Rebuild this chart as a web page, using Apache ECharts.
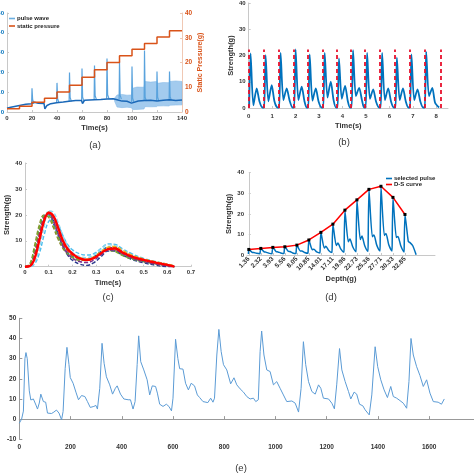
<!DOCTYPE html>
<html>
<head>
<meta charset="utf-8">
<script src="https://cdn.jsdelivr.net/npm/echarts@6/dist/echarts.min.js"></script>
<style>
  html, body { margin: 0; padding: 0; background: #fff; }
  #chart { width: 474px; height: 474px; }
</style>
</head>
<body>
<div id="chart"></div>
<script>
// ---- (a) pressure ramp with pulse wave ----
const stepTimes = [0, 10, 20, 30, 40, 50, 60, 70, 80, 90, 100, 110, 120, 130, 140]
const staticPressure = [1.36, 2.32, 3.93, 5.56, 8.05, 10.85, 14.01, 17.11, 19.96, 22.73, 25.36, 27.71, 30.33, 32.85, 32.85]
const aBaseTime = [0, 3, 6, 10, 15, 19.6, 22, 25, 29.6, 30.3, 32, 35, 39.6, 45, 49.6, 55, 59.6, 60.4, 62, 66, 70, 75, 80, 85, 88, 92, 96, 99.6, 100.4, 105, 110, 115, 120, 125, 130, 135, 140]
const aBaseValue = [1.9, 2.4, 2.8, 3.3, 3.9, 4.2, 4.9, 4.4, 4.3, 1.6, 3.3, 4.2, 4.7, 5.0, 5.4, 5.8, 5.8, 4.3, 5.9, 6.1, 6.2, 6.3, 6.6, 6.7, 6.2, 5.5, 5.4, 4.5, 5.4, 5.6, 5.8, 5.9, 5.6, 5.9, 6.2, 5.8, 6.0]
const spikeTime = [20, 40, 50, 60, 70, 80, 90, 100, 110, 120, 130]
const spikePeak = [12, 14.7, 20, 22, 23.5, 27, 25.5, 23, 31, 20.5, 20.5]
const spikeBase = [4.3, 4.7, 5.4, 5.5, 6.3, 6.8, 6.5, 5, 5.5, 5.5, 5.8]
const bandTime = [86, 88, 92, 96, 99.6, 100.4, 104, 109.6, 110.4, 115, 119.6, 120.4, 125, 129.6, 130.4, 135, 140]
const bandLow = [5.5, 2.5, 2.2, 2.4, 2.2, 1.2, 1.3, 1.5, 2.7, 2.6, 2.7, 3, 3.1, 3, 3.4, 3.5, 3.6]
const bandHigh = [7, 8.6, 8.9, 8.5, 8.6, 12, 12.6, 12.5, 15.4, 15.1, 15.4, 14.5, 14.9, 14.8, 15.4, 15.7, 15.4]

// ---- (b) segmented beats ----
const beatLines = [0, 0.64, 1.28, 1.92, 2.52, 3.16, 3.77, 4.37, 4.97, 5.61, 6.24, 6.86, 7.49, 8.17]
const beatPeak = [20.8, 20.1, 21, 22.3, 20.4, 21, 18.9, 22, 21, 21, 19.2, 20.4, 21.4]
const beatNotch = [1, 2.5, 3, 3, 2.8, 4, 3.5, 4.5, 3.5, 3, 3, 3, 4.5]
const beatBump = [7.5, 8.7, 7.5, 8.1, 7.5, 10, 8.4, 7.7, 7.1, 7.5, 7.5, 7.1, 7.7]
const beatTail = [2.5, 2.5, 3, 2.5, 2.5, 3, 2.5, 3, 2.5, 2.5, 2.5, 2.5, 2]
const segTop = 22.3

// ---- (c) overlaid single beats ----
const cTime = [0, 0.02, 0.04, 0.06, 0.08, 0.10, 0.12, 0.14, 0.16, 0.18, 0.20, 0.23, 0.26, 0.29, 0.32, 0.35, 0.38, 0.41, 0.45, 0.50, 0.55, 0.60, 0.63]
const beatMean = [0, 0.2, 3, 10, 17.5, 20.8, 19.5, 15, 10, 6.8, 5, 3.2, 2.6, 3.3, 5.2, 6.8, 7, 5.5, 3.9, 2.6, 1.6, 0.7, 0]
const beatOlive = [0, 1, 8, 16, 20, 19, 15, 10.5, 7, 4.8, 3.5, 2.5, 2.5, 3.8, 5.8, 7, 6.2, 4.6, 3.2, 2, 1.2, 0.5, 0]
const beatBlue = [0, 0.5, 6, 14, 19.5, 20, 16.5, 12, 8, 5.5, 4, 3, 2.8, 3.8, 5.8, 7.5, 7, 5.3, 3.6, 2.3, 1.3, 0.5, 0]
const beatSky = [0, 0, 1, 5, 12, 17.5, 18.5, 16, 12, 8.5, 6.5, 5, 4.5, 5, 7, 8.8, 8.6, 7, 5, 3.2, 2, 1, 0.3]
const beatNavy = [0, 0.3, 4, 12, 18.5, 21, 18, 13, 8, 4.5, 2.5, 1, 0.5, 1.5, 3.8, 6, 6, 4.5, 2.8, 1.5, 0.6, 0, 0]
const beatCyan = [0, 0, 1.5, 7, 15, 21.5, 21, 17, 12, 8, 5.5, 4, 3.5, 4.5, 6.8, 8.5, 8, 6.3, 4.5, 2.8, 1.6, 0.7, 0]
const beatOrange = [0, 0.3, 5, 13, 19, 20.5, 17.5, 13, 9, 6, 4.3, 3, 2.5, 3.3, 5.2, 7.2, 7.5, 6, 4.3, 2.8, 1.8, 0.9, 0.2]
const beatYellow = [0, 0.2, 3.5, 11, 18, 21, 19, 14.5, 10, 7, 5, 3.5, 3, 3.8, 5.8, 7.5, 7.8, 6.4, 4.6, 3, 1.9, 1, 0.3]
const beatGreen = [0, 0.8, 7, 15, 19.5, 19.5, 16, 11.5, 7.5, 5, 3.6, 2.6, 2.4, 3.4, 5, 6.3, 5.8, 4.4, 3, 1.9, 1, 0.4, 0]
const beatPurple = [0, 0.2, 4, 12, 18.5, 20.5, 17.5, 12.5, 8, 5, 3.2, 2, 1.6, 2.5, 4.5, 6.3, 6.4, 5, 3.4, 2, 1, 0.3, 0]

// ---- (d) depth-strength ----
const depthLabels = ['1.36', '2.32', '3.93', '5.56', '8.05', '10.85', '14.01', '17.11', '19.96', '22.73', '25.36', '27.71', '30.33', '32.85']
const dsCurve = [2.7, 3.2, 3.7, 4.0, 4.8, 7.3, 11, 15, 21.8, 26.8, 31.9, 33.4, 28, 19.7]
const dNotch = [1.3, 1.5, 1.6, 1.8, 2.0, 2.6, 3.4, 4.6, 6.5, 7.5, 8.9, 9.5, 8.5, 6.5]
const dBump = [1.2, 1.4, 1.5, 1.7, 2.0, 2.8, 4.2, 5.8, 7.8, 9.2, 9.7, 10.5, 9.0, 6.0]
const dLate = [0.8, 0.9, 1.0, 1.0, 1.2, 1.5, 2.2, 3.0, 4.0, 4.5, 4.8, 5.0, 4.5, 4.5]
const dEnd = [0.6, 0.6, 0.7, 0.7, 0.8, 1, 1.2, 1.4, 1.6, 1.8, 2, 2, 1.5, 0.1]

// ---- (e) long raw recording ----
const eWave = [[0,-2],[9,0],[16,4],[22,30],[26,33],[31,30],[39,14],[45,9.5],[55,10],[65,7],[71,5],[78,8],[84,12.4],[94,8.7],[103,8.4],[110,3],[126,2.8],[135,3.5],[145,4.5],[155,3],[165,-0.3],[171,3.8],[179,25],[186,35.6],[194,27],[199,20.6],[210,17.8],[221,13.4],[231,9.6],[243,11.7],[256,11.2],[266,8.7],[277,5.8],[291,6.3],[299,6.8],[305,5],[314,15.3],[323,37.6],[331,27.7],[340,21],[353,17],[364,12.4],[375,15.3],[382,16.5],[395,12.4],[408,10],[425,9.6],[434,9.6],[444,5],[452,8.7],[460,27],[466,41.3],[474,28.5],[486,24.4],[499,19.5],[509,12],[519,16.5],[532,16.2],[539,12.9],[548,7.4],[561,6.3],[574,7.4],[584,6.3],[594,4.1],[600,10.4],[610,39.6],[619,30],[626,25],[639,24.8],[649,17.8],[660,14.5],[671,17.8],[684,16.5],[695,12],[704,10.7],[717,8.7],[736,8.2],[747,10.4],[756,8.4],[762,10.4],[771,31.8],[779,44.5],[788,33.5],[797,27],[810,24.4],[825,17.5],[838,20.5],[849,17],[862,15],[875,13.4],[888,11.2],[901,10],[914,10.4],[923,8.7],[933,9.6],[940,33.5],[946,43.7],[955,31.8],[966,24.4],[979,23.6],[992,17],[1005,18.6],[1018,15.3],[1031,12],[1044,8.7],[1064,9],[1077,7.9],[1090,3.5],[1100,15.3],[1109,38.4],[1118,27],[1129,18.6],[1142,13.7],[1155,12.4],[1168,17],[1177,15.3],[1187,10.4],[1207,10],[1220,7.9],[1230,5.1],[1239,17],[1250,35],[1259,24.4],[1272,18.6],[1285,13.7],[1294,10],[1307,13.4],[1317,12.4],[1328,7.4],[1341,6.6],[1350,4.6],[1366,2.1],[1376,12],[1389,35.9],[1399,26],[1411,19.5],[1424,14.5],[1437,10.7],[1450,16.2],[1460,11.2],[1473,10.4],[1486,9.2],[1499,7.9],[1512,5.4],[1521,18.6],[1529,40],[1538,31.8],[1551,26],[1564,21.6],[1577,16.2],[1590,19.5],[1603,12.9],[1616,8.7],[1635,8.4],[1648,7.4],[1659,10]]

const FONT = 'Liberation Sans'
const ORANGE = '#d95319'
const BLUE = '#0072bd'

const chart = echarts.init(document.getElementById('chart'))

// build the line data from the arrays above
const zip = (xs, ys) => xs.map((x, i) => [x, ys[i]])
const stepData = zip(stepTimes, staticPressure)
const baseData = zip(aBaseTime, aBaseValue)
const spikeData = []
spikeTime.forEach((t, i) => {
  spikeData.push([t - 0.3, spikeBase[i]], [t, spikePeak[i]], [t + 0.5, spikeBase[i] + 2], [t + 1.5, spikeBase[i]], [t + 1.6, '-'])
})

const beatData = []
beatPeak.forEach((p, i) => {
  const t0 = beatLines[i]
  const t1 = beatLines[i + 1]
  beatData.push([t0 + 0.02, 0.2], [t0 + 0.08, p], [t0 + 0.2, beatNotch[i]], [t0 + 0.34, beatBump[i]], [t0 + 0.46, beatTail[i]], [t1 - 0.05, 0.2])
})
const segLines = beatLines.map(t => [{ coord: [t, 0] }, { coord: [t, segTop] }])

const pulseData = []
dsCurve.forEach((p, i) => {
  pulseData.push([i - 0.03, i === 0 ? 0.5 : dEnd[i - 1]], [i, p], [i + 0.28, dNotch[i]], [i + 0.42, dBump[i]], [i + 0.65, dLate[i]], [i + 0.93, dEnd[i]])
})
const dsData = dsCurve.map((v, i) => [i, v])

const label = extra => Object.assign({ fontFamily: FONT, fontSize: 6, fontWeight: 'bold', color: '#333', margin: 3, showMaxLabel: true }, extra)
const nameStyle = extra => Object.assign({ fontFamily: FONT, fontSize: 7.5, fontWeight: 'bold', color: '#333' }, extra)
const axisLine = c => ({ show: true, lineStyle: { color: c || '#c8c8c8' } })
const tick = { show: true, inside: true, length: 2, lineStyle: { color: '#c8c8c8' } }

const cCurves = [
  [beatOlive, '#8a8a2a'], [beatBlue, '#0072bd'], [beatSky, '#4dbeee'], [beatNavy, '#2b3a8c'],
  [beatCyan, '#8fd8f0'], [beatOrange, '#d95319'], [beatYellow, '#edb120'], [beatGreen, '#77ac30'], [beatPurple, '#7e2f8e']
]

const line = (extra) => Object.assign({ type: 'line', showSymbol: false, animation: false }, extra)

chart.setOption({
  animation: false,
  grid: [
    { left: 7, top: 13, width: 175, height: 99 },
    { left: 248.7, top: 3, width: 199.3, height: 105 },
    { left: 25, top: 163, width: 166, height: 103.7 },
    { left: 247, top: 172.7, width: 188, height: 82.3 },
    { left: 19.3, top: 318.3, width: 456, height: 121 }
  ].map(g => Object.assign({ outerBoundsMode: 'none', containLabel: false }, g)),
  xAxis: [
    { gridIndex: 0, type: 'value', min: 0, max: 140, interval: 20, axisLine: axisLine(), axisTick: tick, splitLine: { show: false },
      axisLabel: label(), name: 'Time(s)', nameLocation: 'middle', nameGap: 12, nameTextStyle: nameStyle() },
    { gridIndex: 1, type: 'value', min: 0, max: 8.5, interval: 1, axisLine: axisLine(), axisTick: tick, splitLine: { show: false },
      axisLabel: label({ margin: 5, showMaxLabel: false }), name: 'Time(s)', nameLocation: 'middle', nameGap: 14, nameTextStyle: nameStyle() },
    { gridIndex: 2, type: 'value', min: 0, max: 0.7, interval: 0.1, axisLine: axisLine(), axisTick: tick, splitLine: { show: false },
      axisLabel: label(), name: 'Time(s)', nameLocation: 'middle', nameGap: 12, nameTextStyle: nameStyle() },
    { gridIndex: 3, type: 'value', min: -0.15, max: 15.5, axisLine: axisLine(), splitLine: { show: false },
      axisTick: Object.assign({ customValues: depthLabels.map((d, i) => i) }, tick),
      axisLabel: label({ rotate: 45, fontSize: 6.5, customValues: depthLabels.map((d, i) => i), formatter: v => depthLabels[Math.round(v)] }),
      name: 'Depth(g)', nameLocation: 'middle', nameGap: 19, nameTextStyle: nameStyle() },
    { gridIndex: 4, type: 'value', min: 0, max: 1780, interval: 200, axisLine: axisLine('#999'), splitLine: { show: false },
      axisTick: { show: true, inside: true, length: 3, lineStyle: { color: '#999' } },
      axisLabel: label({ fontSize: 6.5, margin: 4, showMaxLabel: false, formatter: v => String(v) }) }
  ],
  yAxis: [
    { gridIndex: 0, type: 'value', min: 0, max: 50, interval: 10, axisLine: axisLine(), axisTick: tick, splitLine: { show: false },
      axisLabel: label({ color: BLUE }) },
    { gridIndex: 0, type: 'value', position: 'right', min: 0, max: 40, interval: 10, axisLine: axisLine('#f0c8b4'),
      axisTick: { show: true, inside: true, length: 2, lineStyle: { color: '#f0c8b4' } }, splitLine: { show: false },
      axisLabel: label({ color: ORANGE, fontSize: 6.5 }), name: 'Static Pressure(g)', nameLocation: 'middle', nameGap: 9, nameRotate: 90,
      nameTextStyle: nameStyle({ color: ORANGE, fontSize: 7 }) },
    { gridIndex: 1, type: 'value', min: 0, max: 40, interval: 10, axisLine: axisLine(), axisTick: tick, splitLine: { show: false },
      axisLabel: label(), name: 'Strength(g)', nameLocation: 'middle', nameGap: 9, nameTextStyle: nameStyle() },
    { gridIndex: 2, type: 'value', min: 0, max: 40, interval: 10, axisLine: axisLine(), axisTick: tick, splitLine: { show: false },
      axisLabel: label(), name: 'Strength(g)', nameLocation: 'middle', nameGap: 8, nameTextStyle: nameStyle() },
    { gridIndex: 3, type: 'value', min: 0, max: 40, interval: 10, axisLine: axisLine(), axisTick: tick, splitLine: { show: false },
      axisLabel: label(), name: 'Strength(g)', nameLocation: 'middle', nameGap: 8, nameTextStyle: nameStyle() },
    { gridIndex: 4, type: 'value', min: -10, max: 50, interval: 10, axisLine: axisLine('#999'), splitLine: { show: false },
      axisTick: { show: true, inside: true, length: 3, lineStyle: { color: '#999' } }, axisLabel: label({ fontSize: 6.5 }) }
  ],
  legend: [
    { data: [{ name: 'pulse wave', itemStyle: { color: '#6aaee0' } }], left: 9, top: 15.5 },
    { data: [{ name: 'static pressure', itemStyle: { color: ORANGE } }], left: 9, top: 23 },
    { data: [{ name: 'selected pulse', itemStyle: { color: BLUE } }], left: 386, top: 175.5 },
    { data: [{ name: 'D-S curve', itemStyle: { color: '#ff0000' } }], left: 386, top: 181.5 }
  ].map(l => Object.assign({ padding: 0, icon: 'rect', itemWidth: 6, itemHeight: 1.6, selectedMode: false,
    textStyle: { fontFamily: FONT, fontSize: 6, fontWeight: 'bold', color: '#222', padding: [0, 0, 0, -3] } }, l)),
  graphic: [
    ['(a)', 95, 145], ['(b)', 344, 142], ['(c)', 108, 297], ['(d)', 331, 297], ['(e)', 241, 468]
  ].map(([t, x, y]) => ({ type: 'text', x, y, style: { text: t, font: '9.5px "Liberation Sans"', fill: '#333', align: 'center', verticalAlign: 'middle' } })),
  series: [
    // (a) noisy band after 86 s, drawn as one filled outline
    { type: 'custom', xAxisIndex: 0, yAxisIndex: 0, silent: true, data: [0],
      renderItem: (params, api) => {
        const upper = bandTime.map((t, i) => api.coord([t, bandHigh[i]]))
        const lower = bandTime.map((t, i) => api.coord([t, bandLow[i]])).reverse()
        return { type: 'polygon', shape: { points: upper.concat(lower) }, style: { fill: '#a3cbee', stroke: '#7fb5e4', lineWidth: 0.5 } }
      } },
    line({ name: 'pulse wave', xAxisIndex: 0, yAxisIndex: 0, data: spikeData, connectNulls: false, lineStyle: { color: '#5aa3dd', width: 1.2 } }),
    line({ xAxisIndex: 0, yAxisIndex: 0, data: baseData, lineStyle: { color: '#1a68b8', width: 1.5 } }),
    line({ name: 'static pressure', xAxisIndex: 0, yAxisIndex: 1, data: stepData, step: 'end', lineStyle: { color: ORANGE, width: 1.5 } }),
    // (b)
    line({ xAxisIndex: 1, yAxisIndex: 2, data: beatData, smooth: 0.25, lineStyle: { color: BLUE, width: 1.8 },
      markLine: { silent: true, symbol: 'none', label: { show: false }, lineStyle: { color: '#e8112d', type: [4, 3], width: 1.8 }, data: segLines } }),
    // (c)
    ...cCurves.map(([vals, c]) => line({ xAxisIndex: 2, yAxisIndex: 3, data: zip(cTime, vals), smooth: 0.4,
      lineStyle: { color: c, width: 1.4, type: [4, 2] } })),
    line({ xAxisIndex: 2, yAxisIndex: 3, data: zip(cTime, beatMean), smooth: 0.4, lineStyle: { color: '#ff0000', width: 2.4 } }),
    // (d)
    line({ name: 'selected pulse', xAxisIndex: 3, yAxisIndex: 4, data: pulseData, smooth: 0.2, lineStyle: { color: BLUE, width: 1.5 } }),
    line({ name: 'D-S curve', xAxisIndex: 3, yAxisIndex: 4, data: dsData, showSymbol: true, symbol: 'rect', symbolSize: 3,
      itemStyle: { color: '#000' }, lineStyle: { color: '#ff0000', width: 1.5 } }),
    // (e)
    line({ xAxisIndex: 4, yAxisIndex: 5, data: eWave, lineStyle: { color: '#5b9bd5', width: 1 } })
  ]
})
</script>
</body>
</html>
